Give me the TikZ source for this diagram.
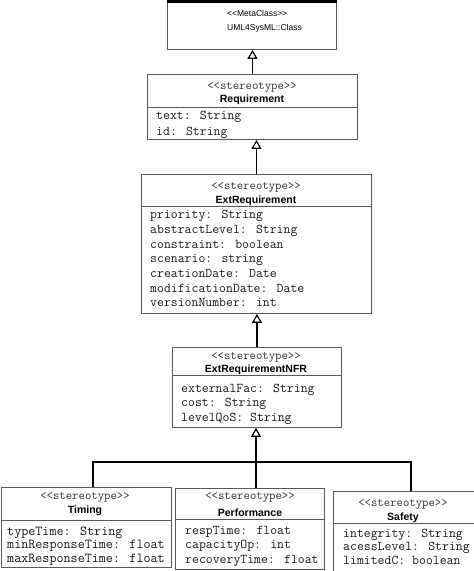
\documentclass[tikz,border=0pt]{standalone}
\usepackage{fontspec}
\setmainfont{Liberation Sans}
\setsansfont{Liberation Sans}
\usetikzlibrary{arrows.meta,positioning}
\tikzset{
	classbox/.style={draw=black!65, line width=0.9pt, fill=white, inner sep=0pt, anchor=north west},
	sepline/.style={draw=black!65, line width=0.9pt},
	stereo/.style={font=\ttfamily\fontsize{12.4}{14}\selectfont, text=black!80, inner sep=0pt, anchor=base},
	cname/.style={font=\sffamily\bfseries\fontsize{10.5}{12}\selectfont, inner sep=0pt, anchor=base},
	attr/.style={font=\ttfamily\fontsize{13.4}{15}\selectfont, text=black!90, inner sep=0pt, anchor=base west},
	metatext/.style={font=\sffamily\fontsize{8.5}{10}\selectfont, inner sep=0pt, anchor=base west},
	gen/.style={-{Triangle[open, width=10pt, length=9pt]}, line width=1.2pt, black},
	bus/.style={line width=1.3pt, black}
}

\begin{document}
\begin{tikzpicture}[x=1pt, y=-1pt]
		\useasboundingbox (0,0) rectangle (474,571);

		% metaclass
		\node[classbox, minimum width=169pt, minimum height=48pt] (meta) at (167,1) {};
		\draw[black, line width=3pt]	(meta.north west) -- (meta.north east);
		\node[metatext] (meta-st) at (227,16) {{<}{<}MetaClass{>}{>}};
		\node[metatext] (meta-name) at (227,30) {UML4SysML::Class};

		% Requirement
		\node[classbox, minimum width=210pt, minimum height=65pt] (req) at (147,74) {};
		\draw[sepline]	(req.north west) ++(0,33) -- ++(210,0);
		\node[stereo] (req-st) at (252,89) {<<stereotype>>};
		\node[cname] (req-name) at (252,102) {Requirement};
		\foreach \txt [count=\i] in {text: String, id: String} {
			\node[attr] (req-a\i) at (156, {103 + 16*\i}) {\txt};
		}

		% ExtRequirement
		\node[classbox, minimum width=230pt, minimum height=139pt] (ext) at (141,174) {};
		\draw[sepline]	(ext.north west) ++(0,32) -- ++(230,0);
		\node[stereo] (ext-st) at (256,189) {<<stereotype>>};
		\node[cname] (ext-name) at (256,203) {ExtRequirement};
		\foreach \txt [count=\i] in {priority: String, abstractLevel: String, constraint: boolean,
				scenario: string, creationDate: Date, modificationDate: Date, versionNumber: int} {
			\node[attr] (ext-a\i) at (150, {204 + 14.7*\i}) {\txt};
		}

		% ExtRequirementNFR
		\node[classbox, minimum width=169pt, minimum height=80pt] (nfr) at (172,347) {};
		\draw[sepline]	(nfr.north west) ++(0,28) -- ++(169,0);
		\node[stereo] (nfr-st) at (256,359) {<<stereotype>>};
		\node[cname] (nfr-name) at (256,372) {ExtRequirementNFR};
		\foreach \txt [count=\i] in {externalFac: String, cost: String, levelQoS: String} {
			\node[attr] (nfr-a\i) at (181, {377.5 + 14.5*\i}) {\txt};
		}

		% Timing
		\node[classbox, minimum width=170.5pt, minimum height=80pt] (timing) at (0.5,487) {};
		\draw[sepline]	(timing.north west) ++(0,33) -- ++(170.5,0);
		\node[stereo] (timing-st) at (85,499) {<<stereotype>>};
		\node[cname] (timing-name) at (85,513) {Timing};
		\foreach \txt [count=\i] in {typeTime: String, minResponseTime: float, maxResponseTime: float} {
			\node[attr, font=\ttfamily\fontsize{13.7}{15}\selectfont] (timing-a\i) at (7, {521.5 + 13.5*\i}) {\txt};
		}

		% Performance
		\node[classbox, minimum width=149pt, minimum height=81pt] (perf) at (175,488) {};
		\draw[sepline]	(perf.north west) ++(0,31) -- ++(149,0);
		\node[stereo] (perf-st) at (250,499) {<<stereotype>>};
		\node[cname] (perf-name) at (250,516) {Performance};
		\foreach \txt [count=\i] in {respTime: float, capacityOp: int, recoveryTime: float} {
			\node[attr] (perf-a\i) at (185, {519.5 + 14.5*\i}) {\txt};
		}

		% Safety
		\node[classbox, minimum width=145pt, minimum height=85pt] (safety) at (333,491) {};
		\draw[sepline]	(safety.north west) ++(0,32) -- ++(145,0);
		\node[stereo] (safety-st) at (403,506) {<<stereotype>>};
		\node[cname] (safety-name) at (403,520) {Safety};
		\foreach \txt [count=\i] in {integrity: String, acessLevel: String, limitedC: boolean} {
			\node[attr] (safety-a\i) at (343, {523.5 + 13.5*\i}) {\txt};
		}

		% generalizations
		\draw[gen]	(req.north) -- (req.north |- meta.south);
		\draw[gen]	(ext.north) -- (ext.north |- req.south);
		\draw[gen]	(nfr.north) -- (nfr.north |- ext.south);

		\coordinate (tjoin) at (93,462);
		\coordinate (pjoin) at (256,462);
		\coordinate (sjoin) at (411,462);
		\draw[gen]	(pjoin) -- (pjoin |- nfr.south);
		\draw[bus]	(tjoin |- timing.north) -- (tjoin) -- (sjoin) -- (sjoin |- safety.north);
		\draw[bus]	(pjoin |- perf.north) -- (pjoin);
	\end{tikzpicture}
\end{document}
